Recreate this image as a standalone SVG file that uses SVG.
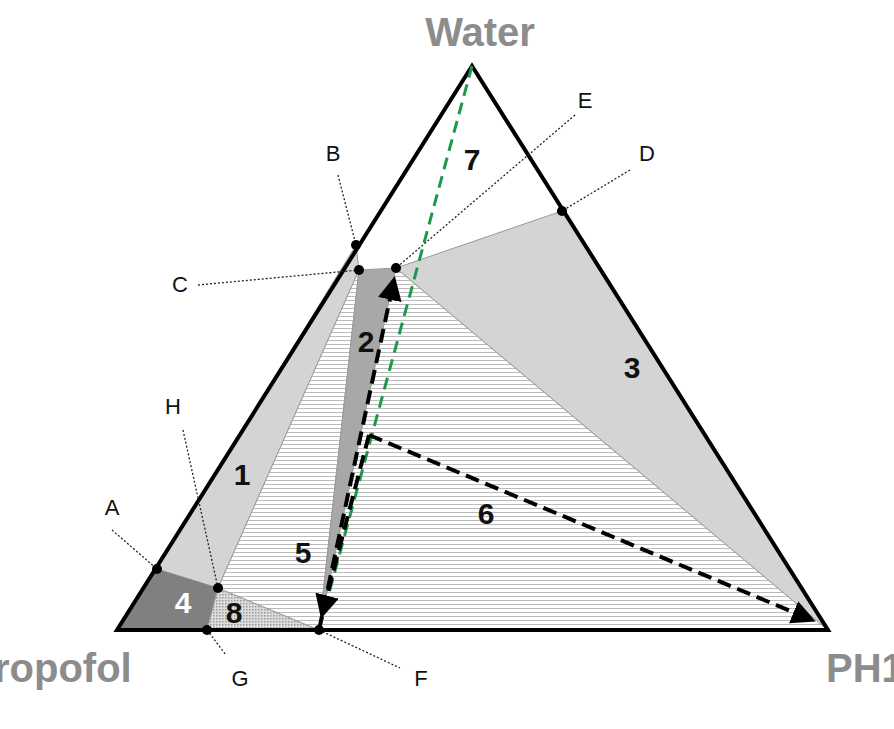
<svg xmlns="http://www.w3.org/2000/svg" width="894" height="729" viewBox="0 0 894 729">
<style>
.num{font-family:"Liberation Sans",Arial,sans-serif;font-weight:bold;font-size:30px;fill:#111}
.let{font-family:"Liberation Sans",Arial,sans-serif;font-size:22px;fill:#111}
.big{font-family:"Liberation Sans",Arial,sans-serif;font-weight:bold;font-size:40px;fill:#8c8c8c}
.lead{stroke:#222;stroke-width:1.3;stroke-dasharray:2 2;fill:none}
.dash{stroke:#000;stroke-width:4;stroke-dasharray:14 7;fill:none}
</style>
<defs>
<pattern id="hl" width="6" height="4" patternUnits="userSpaceOnUse"><rect width="6" height="4" fill="#fff"/><line x1="0" y1="0.5" x2="6" y2="0.5" stroke="#bbb" stroke-width="1"/></pattern>
<pattern id="dt" width="3" height="3" patternUnits="userSpaceOnUse"><rect width="3" height="3" fill="#ddd"/><rect width="1.5" height="1.5" fill="#999"/></pattern>
<marker id="ah" markerWidth="6" markerHeight="6" refX="5" refY="3" orient="auto" markerUnits="strokeWidth"><path d="M0,0 L6,3 L0,6 z" fill="#000"/></marker>
</defs>
<g id="regions" stroke="#999" stroke-width="1">
<polygon id="r7" points="472,66 356,245 359,270 396,268 562,211" fill="#fff" stroke="none"/>
<polygon id="r1" points="157,569 356,245 359,270 218,588" fill="#d4d4d4"/>
<polygon id="r4" points="117,630 157,569 218,588 207,630" fill="#808080" stroke="none"/>
<polygon id="r8" points="207,630 218,588 319,630" fill="url(#dt)"/>
<polygon id="r5" points="218,588 359,270 319,630" fill="url(#hl)"/>
<polygon id="r2" points="359,270 396,268 319,630" fill="#a8a8a8"/>
<polygon id="r6" points="396,268 828,630 319,630" fill="url(#hl)"/>
<polygon id="r3" points="396,268 562,211 828,630" fill="#d4d4d4"/>
</g>
<g id="triangle"><polygon points="472,66 117,630 828,630" fill="none" stroke="#000" stroke-width="4" stroke-linejoin="miter"/></g>
<g id="connectors">
<line x1="472" y1="66" x2="319" y2="630" stroke="#1a9a4a" stroke-width="3" stroke-dasharray="12 7"/>
<line class="dash" x1="319" y1="630" x2="394" y2="280" marker-end="url(#ah)"/>
<line class="dash" x1="369" y1="435" x2="322" y2="615" marker-end="url(#ah)"/>
<line class="dash" x1="369" y1="435" x2="812" y2="620" marker-end="url(#ah)"/>
<line class="lead" x1="112" y1="530" x2="157" y2="569"/>
<line class="lead" x1="338" y1="175" x2="356" y2="245"/>
<line class="lead" x1="198" y1="285" x2="359" y2="270"/>
<line class="lead" x1="630" y1="170" x2="562" y2="211"/>
<line class="lead" x1="575" y1="115" x2="396" y2="268"/>
<line class="lead" x1="319" y1="630" x2="400" y2="668"/>
<line class="lead" x1="207" y1="630" x2="226" y2="655"/>
<line class="lead" x1="183" y1="430" x2="218" y2="588"/>
</g>
<g id="points" fill="#000">
<circle cx="157" cy="569" r="5"/><circle cx="356" cy="245" r="5"/><circle cx="359" cy="270" r="5"/>
<circle cx="562" cy="211" r="5"/><circle cx="396" cy="268" r="5"/><circle cx="319" cy="630" r="5"/>
<circle cx="207" cy="630" r="5"/><circle cx="218" cy="588" r="5"/>
</g>
<g id="labels">
<text class="big" x="480" y="46" text-anchor="middle">Water</text>
<text class="big" x="-6" y="682">ropofol</text>
<text class="big" x="826" y="682">PH1</text>
<text class="num" x="242" y="485" text-anchor="middle">1</text>
<text class="num" x="366" y="352" text-anchor="middle">2</text>
<text class="num" x="632" y="378" text-anchor="middle">3</text>
<text class="num" x="183" y="613" text-anchor="middle" fill="#fff" style="fill:#fff">4</text>
<text class="num" x="303" y="563" text-anchor="middle">5</text>
<text class="num" x="486" y="524" text-anchor="middle">6</text>
<text class="num" x="472" y="170" text-anchor="middle">7</text>
<text class="num" x="234" y="623" text-anchor="middle">8</text>
<text class="let" x="112" y="515" text-anchor="middle">A</text>
<text class="let" x="333" y="161" text-anchor="middle">B</text>
<text class="let" x="180" y="292" text-anchor="middle">C</text>
<text class="let" x="647" y="161" text-anchor="middle">D</text>
<text class="let" x="585" y="108" text-anchor="middle">E</text>
<text class="let" x="421" y="686" text-anchor="middle">F</text>
<text class="let" x="240" y="686" text-anchor="middle">G</text>
<text class="let" x="173" y="414" text-anchor="middle">H</text>
</g>
</svg>
